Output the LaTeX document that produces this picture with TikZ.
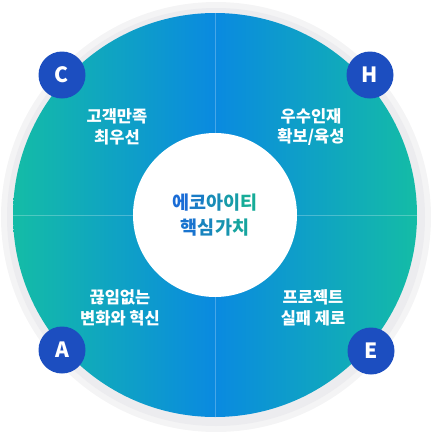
\documentclass[tikz,border=0pt]{standalone}
\usepackage{fontspec}
\setmainfont{Noto Sans CJK KR}
\definecolor{ecoteal}{RGB}{20,188,166}
\definecolor{ecoblue}{RGB}{10,138,224}
\definecolor{badgeblue}{RGB}{28,78,192}
\definecolor{ringgray}{RGB}{236,236,239}
\definecolor{txtblue}{RGB}{26,108,214}
\definecolor{txtteal}{RGB}{22,172,152}
\newcommand{\gc}[2]{\textcolor{txtteal!#1!txtblue}{#2}}

\begin{document}
\begin{tikzpicture}[x=1pt,y=-1pt, every node/.style={align=center}, lbl/.style={text=white,font=\fontsize{16.5}{20.5}\selectfont\bfseries}, badge/.style={circle,fill=badgeblue,minimum size=47pt,inner sep=0pt,text=white,font=\fontsize{21}{21}\selectfont\bfseries}, core/.style={circle,fill=white,minimum size=164pt,inner sep=0pt,font=\fontsize{18.5}{25}\selectfont\bfseries}]
\useasboundingbox (0,0) rectangle (431,432);
\coordinate (o) at (215,215);
% soft ring behind the wheel
\fill[ringgray!60] (216,217) circle (215);
\fill[ringgray] (216,217) circle (209);
\begin{scope}
\clip (o) circle (202);
\shade[left color=ecoteal,right color=ecoblue] (13,13) rectangle (o |- 0,417);
\shade[left color=ecoblue,right color=ecoteal] (o |- 0,13) rectangle (417,417);
\end{scope}
\draw[white,opacity=.25,line width=1pt] (215,13) -- (215,417) (13,215) -- (417,215);
\node[core] (val) at (o) {\gc{0}{에}\gc{25}{코}\gc{50}{아}\gc{75}{이}\gc{100}{티}\\\gc{12}{핵}\gc{38}{심}\gc{62}{가}\gc{88}{치}};
\node[lbl] (cust) at (117,127) {고객만족\\최우선};
\node[lbl] (hr) at (311,127) {우수인재\\확보/육성};
\node[lbl] (chg) at (120,308) {끊임없는\\변화와 혁신};
\node[lbl] (proj) at (313,308) {프로젝트\\실패 제로};
\node[badge] (bc) at (62,75) {C};
\node[badge] (bh) at (370,75) {H};
\node[badge] (ba) at (62,350) {A};
\node[badge] (be) at (371,351) {E};
\end{tikzpicture}
\end{document}
